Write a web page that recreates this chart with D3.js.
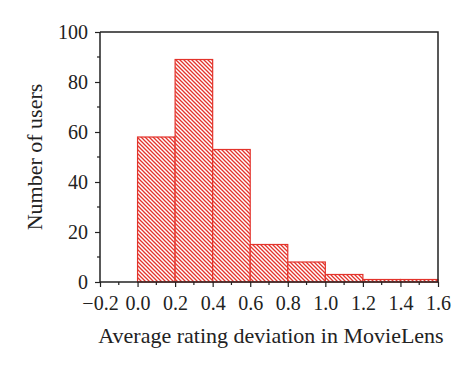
<!DOCTYPE html>
<html lang="en">
<head>
<meta charset="UTF-8">
<title>Average rating deviation in MovieLens</title>
<script src="https://d3js.org/d3.v7.min.js"></script>
<style>
  body { margin: 0; background: #fff; }
  text { font-family: "Liberation Serif", "DejaVu Serif", serif; fill: #222; }
</style>
</head>
<body>
<svg id="chart" width="474" height="372"></svg>
<script>
// histogram bins (lower edge, upper edge) and counts
const binStarts = [0.0, 0.2, 0.4, 0.6, 0.8, 1.0, 1.2, 1.4];
const binEnds   = [0.2, 0.4, 0.6, 0.8, 1.0, 1.2, 1.4, 1.6];
const counts    = [58, 89, 53, 15, 8, 3, 1, 1];
const xTicks = [-0.2, 0.0, 0.2, 0.4, 0.6, 0.8, 1.0, 1.2, 1.4, 1.6];
const yTicks = [0, 20, 40, 60, 80, 100];

const svg = d3.select("#chart");
const plotL = 100, plotR = 438, plotT = 32, plotB = 282;
const red = "#e3342c";

const x = d3.scaleLinear().domain([-0.2, 1.6]).range([plotL, plotR]);
const y = d3.scaleLinear().domain([0, 100]).range([plotB, plotT]);

// hatch pattern
const pat = svg.append("defs").append("pattern")
    .attr("id", "hatch")
    .attr("patternUnits", "userSpaceOnUse")
    .attr("width", 4).attr("height", 4);
pat.append("rect").attr("width", 4).attr("height", 4).attr("fill", "#fff");
pat.append("path")
    .attr("d", "M-1,-1 L5,5 M3,-1 L5,1 M-1,3 L1,5")
    .attr("stroke", red).attr("stroke-width", 1.3);

// bars
svg.append("g").selectAll("rect")
    .data(counts)
    .join("rect")
    .attr("x", (d, i) => x(binStarts[i]))
    .attr("width", (d, i) => x(binEnds[i]) - x(binStarts[i]))
    .attr("y", d => y(d))
    .attr("height", d => y(0) - y(d))
    .attr("fill", "url(#hatch)")
    .attr("stroke", red)
    .attr("stroke-width", 1.2);

// frame (top and right)
svg.append("path")
    .attr("d", `M${plotL},${plotT}H${plotR}V${plotB}`)
    .attr("fill", "none").attr("stroke", "#222").attr("stroke-width", 1.5);

// x axis
const xAxis = svg.append("g")
    .attr("transform", `translate(0,${plotB})`)
    .call(d3.axisBottom(x).tickValues(xTicks).tickSize(5).tickPadding(9)
        .tickFormat(d => d3.format(".1f")(d).replace("-", "\u2212")));
xAxis.append("g").selectAll("line")
    .data(d3.range(-0.1, 1.6, 0.2))
    .join("line")
    .attr("x1", d => x(d)).attr("x2", d => x(d))
    .attr("y1", 0).attr("y2", 3)
    .attr("stroke", "#222").attr("stroke-width", 1.2);

// y axis
const yAxis = svg.append("g")
    .attr("transform", `translate(${plotL},0)`)
    .call(d3.axisLeft(y).tickValues(yTicks).tickSize(5).tickPadding(7));
yAxis.append("g").selectAll("line")
    .data(d3.range(10, 100, 20))
    .join("line")
    .attr("x1", 0).attr("x2", -3)
    .attr("y1", d => y(d)).attr("y2", d => y(d))
    .attr("stroke", "#222").attr("stroke-width", 1.2);

[xAxis, yAxis].forEach(a => {
  a.select(".domain").attr("stroke", "#222").attr("stroke-width", 1.5);
  a.selectAll(".tick line").attr("stroke", "#222").attr("stroke-width", 1.2);
  a.selectAll(".tick text").attr("font-size", 20)
      .attr("font-family", "Liberation Serif, DejaVu Serif, serif").attr("fill", "#222");
});
xAxis.select(".domain").attr("d", `M${plotL},0H${plotR}`);
yAxis.select(".domain").attr("d", `M0,${plotB}V${plotT}`);

// axis titles
svg.append("text")
    .attr("x", (plotL + plotR) / 2 + 2).attr("y", 343)
    .attr("text-anchor", "middle").attr("font-size", 22)
    .text("Average rating deviation in MovieLens");
svg.append("text")
    .attr("transform", `translate(42,157) rotate(-90)`)
    .attr("text-anchor", "middle").attr("font-size", 22)
    .text("Number of users");
</script>
</body>
</html>
